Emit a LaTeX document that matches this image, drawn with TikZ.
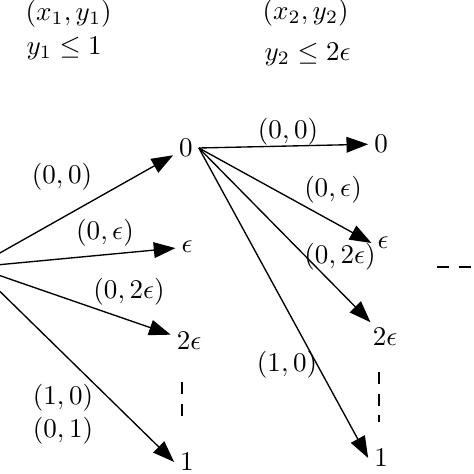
\documentclass[tikz,border=0pt]{standalone}
\usepackage{amsmath}
\usepackage{amssymb}
\usetikzlibrary{arrows.meta}

\begin{document}
\begin{tikzpicture}[x=0.37pt,y=-0.37pt,line width=0.5pt,
    state/.style={inner sep=2pt},
    lbl/.style={inner sep=0pt},
    trans/.style={-{Triangle[length=8pt,width=5.8pt]}},
    ellip/.style={dash pattern=on 4.5pt off 3.5pt}]
        \useasboundingbox (0,0) rectangle (474,474);
        \clip (0,0) rectangle (474,474);

        % Headers
        \node[lbl, anchor=west] (hxa) at (25,14) {$(x_1,y_1)$};
        \node[lbl, anchor=west] (hya) at (26,48) {$y_1\leq 1$};
        \node[lbl, anchor=west] (hxb) at (262,13) {$(x_2,y_2)$};
        \node[lbl, anchor=west] (hyb) at (264,54) {$y_2\leq 2\epsilon$};

        % States
        \coordinate (src) at (-25,267);
        \node[state] (a0) at (186,148) {$0$};
        \node[state] (ae) at (187,247) {$\epsilon$};
        \node[state] (a2e) at (189,341) {$2\epsilon$};
        \node[state] (a1) at (187,462) {$1$};

        \node[state] (b0) at (381,144) {$0$};
        \node[state] (be) at (383,243) {$\epsilon$};
        \node[state] (b2e) at (385,337) {$2\epsilon$};
        \node[state] (b1) at (381,458) {$1$};

        % Transitions
        \draw[trans] (src) -- (a0);
        \draw[trans] (src) -- (ae);
        \draw[trans] (src) -- (a2e);
        \draw[trans] (src) -- (a1.west);

        \draw[trans] (a0.east) -- (b0);
        \draw[trans] (a0.east) -- (be.west);
        \draw[trans] (a0.east) -- (b2e);
        \draw[trans] (a0.east) -- (b1.west);

        % Labels
        \node[lbl] (la00) at (62,177) {$(0,0)$};
        \node[lbl] (la0e) at (105,233) {$(0,\epsilon)$};
        \node[lbl] (la02e) at (129,292) {$(0,2\epsilon)$};
        \node[lbl] (la10) at (63,398) {$(1,0)$};
        \node[lbl] (la01) at (63,431) {$(0,1)$};

        \node[lbl] (lb00) at (288,132) {$(0,0)$};
        \node[lbl] (lb0e) at (333,190) {$(0,\epsilon)$};
        \node[lbl] (lb02e) at (340,257) {$(0,2\epsilon)$};
        \node[lbl] (lb10) at (287,365) {$(1,0)$};

        % Dots
        \coordinate (da1) at (182,382);
        \coordinate (da2) at (182,418);
        \coordinate (db1) at (379,372);
        \coordinate (db2) at (379,422);
        \coordinate (dc1) at (437,267);
        \coordinate (dc2) at (500,267);
        \draw[ellip] (da1) -- (da2);
        \draw[ellip] (db1) -- (db2);
        \draw[ellip] (dc1) -- (dc2);
      \end{tikzpicture}
\end{document}
